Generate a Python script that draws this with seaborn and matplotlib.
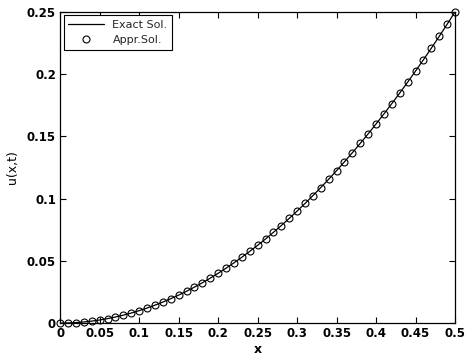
import matplotlib
matplotlib.use("Agg")
import matplotlib.pyplot as plt
import pandas as pd
import seaborn as sns

x_vals = [0.00, 0.01, 0.02, 0.03, 0.04, 0.05, 0.06, 0.07, 0.08, 0.09,
          0.10, 0.11, 0.12, 0.13, 0.14, 0.15, 0.16, 0.17, 0.18, 0.19,
          0.20, 0.21, 0.22, 0.23, 0.24, 0.25, 0.26, 0.27, 0.28, 0.29,
          0.30, 0.31, 0.32, 0.33, 0.34, 0.35, 0.36, 0.37, 0.38, 0.39,
          0.40, 0.41, 0.42, 0.43, 0.44, 0.45, 0.46, 0.47, 0.48, 0.49,
          0.50]
exact_vals = [0.0000, 0.0001, 0.0004, 0.0009, 0.0016, 0.0025, 0.0036, 0.0049,
              0.0064, 0.0081, 0.0100, 0.0121, 0.0144, 0.0169, 0.0196, 0.0225,
              0.0256, 0.0289, 0.0324, 0.0361, 0.0400, 0.0441, 0.0484, 0.0529,
              0.0576, 0.0625, 0.0676, 0.0729, 0.0784, 0.0841, 0.0900, 0.0961,
              0.1024, 0.1089, 0.1156, 0.1225, 0.1296, 0.1369, 0.1444, 0.1521,
              0.1600, 0.1681, 0.1764, 0.1849, 0.1936, 0.2025, 0.2116, 0.2209,
              0.2304, 0.2401, 0.2500]
appr_vals = list(exact_vals)

xticks = [0, 0.05, 0.1, 0.15, 0.2, 0.25, 0.3, 0.35, 0.4, 0.45, 0.5]
xtick_labels = ["0", "0.05", "0.1", "0.15", "0.2", "0.25", "0.3", "0.35", "0.4", "0.45", "0.5"]
yticks = [0, 0.05, 0.1, 0.15, 0.2, 0.25]
ytick_labels = ["0", "0.05", "0.1", "0.15", "0.2", "0.25"]

df = pd.DataFrame({"x": x_vals, "exact": exact_vals, "appr": appr_vals})

sns.set_style("ticks")
plt.rcParams["font.family"] = ["DejaVu Sans"]

fig = plt.figure(figsize=(4.74, 3.61), dpi=100)
ax = fig.add_axes([0.127, 0.105, 0.833, 0.862])

sns.lineplot(data=df, x="x", y="exact", color="black", linewidth=0.9,
             label="Exact Sol.", ax=ax)
ax.plot(df["x"], df["appr"], linestyle="none", marker="o", markersize=5,
        markerfacecolor="none", markeredgecolor="black", markeredgewidth=0.8,
        label="Appr.Sol.", clip_on=False, zorder=3)

ax.set_xlim(0, 0.5)
ax.set_ylim(0, 0.25)
ax.set_xticks(xticks)
ax.set_xticklabels(xtick_labels, fontsize=8.5, fontweight="bold")
ax.set_yticks(yticks)
ax.set_yticklabels(ytick_labels, fontsize=8.5, fontweight="bold")
ax.tick_params(direction="in", length=4, width=0.8, top=True, right=True, pad=3,
               colors="black")
for s in ax.spines.values():
    s.set_visible(True)
    s.set_linewidth(0.9)
    s.set_color("black")

ax.set_xlabel("x", fontsize=9, fontweight="bold", labelpad=2, color="black")
ax.set_ylabel("u(x,t)", fontsize=9, labelpad=6, color="black")

leg = ax.legend(loc="upper left", fontsize=8, frameon=True, fancybox=False,
                edgecolor="black", borderaxespad=0.3, handlelength=3.2,
                borderpad=0.4, labelspacing=0.5, framealpha=1)
leg.get_frame().set_linewidth(0.8)

fig.savefig("out.png", dpi=100, facecolor="white")
